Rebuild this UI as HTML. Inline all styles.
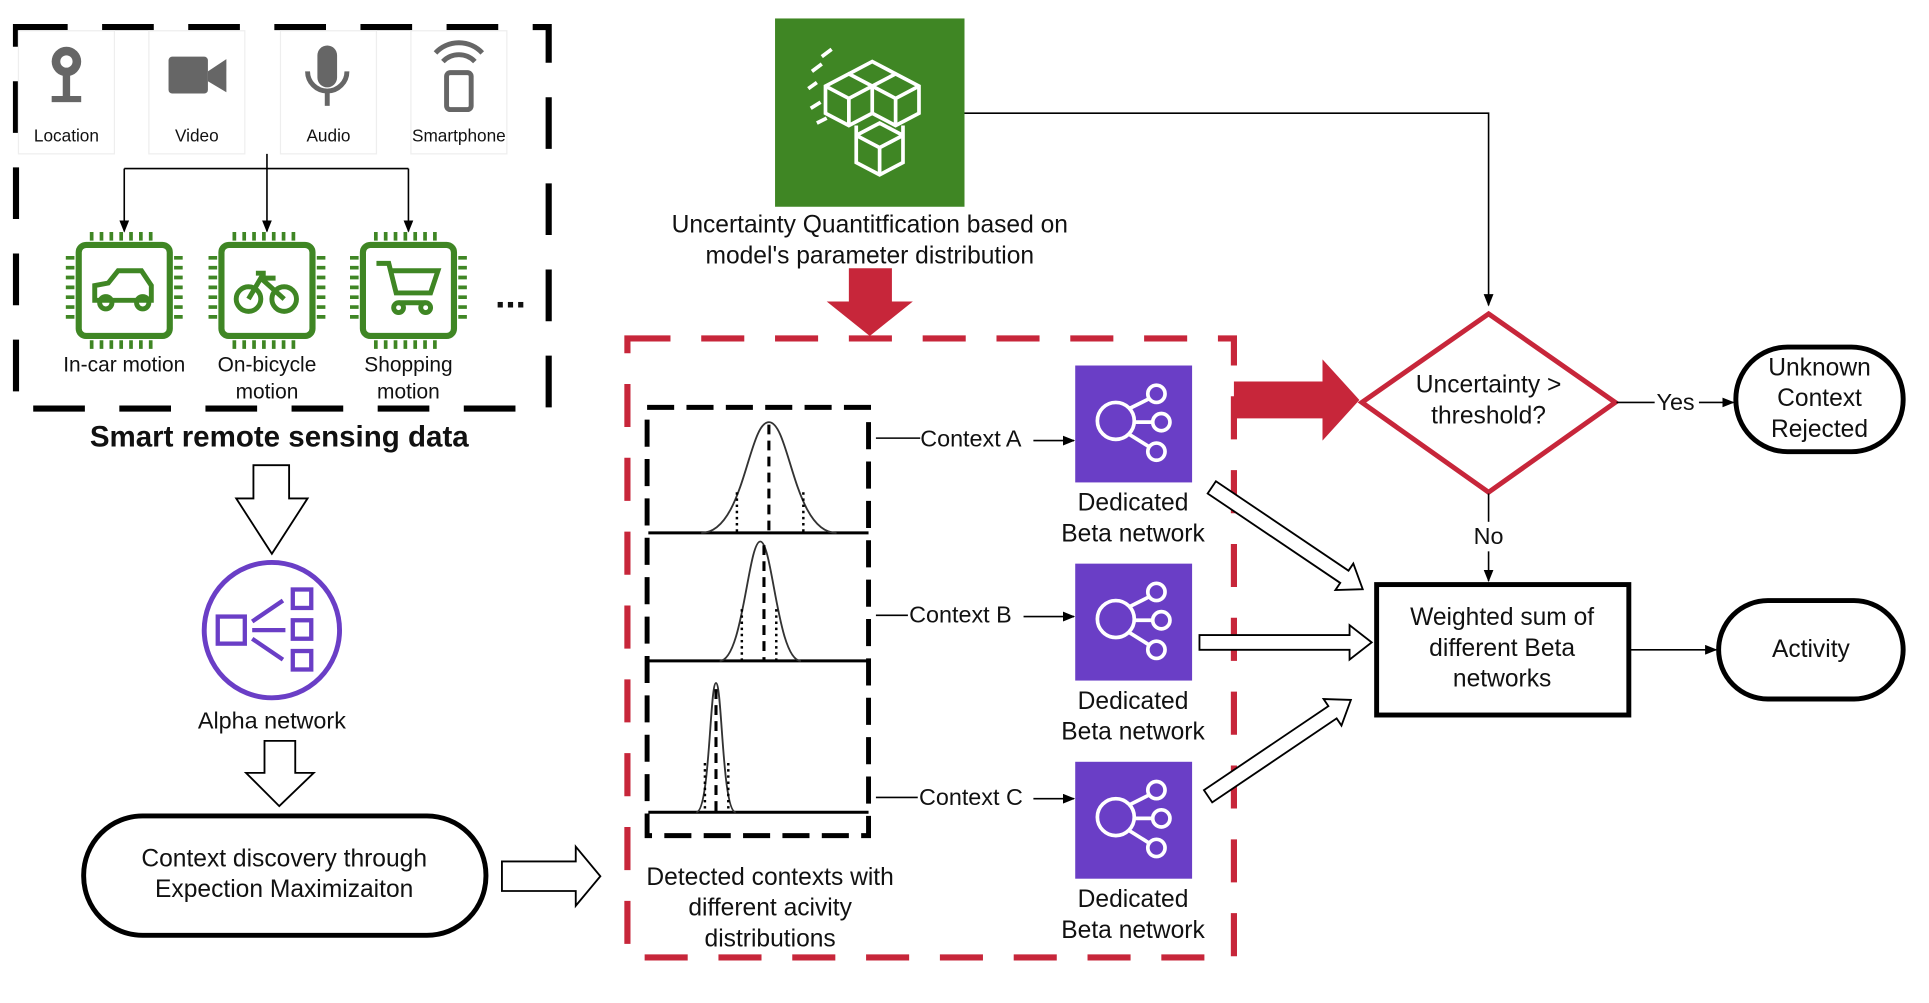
<!DOCTYPE html>
<html><head><meta charset="utf-8"><style>
html,body{margin:0;padding:0;background:#fff;}
svg{display:block;}
text{font-family:"Liberation Sans",sans-serif;fill:#111;}
</style></head><body>
<svg width="1929" height="1003" viewBox="0 0 1568 815" preserveAspectRatio="none" xmlns="http://www.w3.org/2000/svg">
<defs>
<marker id="ah" markerWidth="10" markerHeight="8" refX="9" refY="4" orient="auto" markerUnits="userSpaceOnUse"><path d="M0,0 L10,4 L0,8 z" fill="#000"/></marker>
<g id="chip">
 <rect x="-37" y="-37" width="74" height="74" rx="6" fill="none" stroke="#3f8624" stroke-width="5"/>
 <g stroke="#3f8624">
  <line x1="-28" y1="-44" x2="28" y2="-44" stroke-dasharray="3,5" stroke-width="7"/>
  <line x1="-28" y1="44" x2="28" y2="44" stroke-dasharray="3,5" stroke-width="7"/>
  <line x1="-44" y1="-28" x2="-44" y2="28" stroke-dasharray="3,5" stroke-width="7"/>
  <line x1="44" y1="-28" x2="44" y2="28" stroke-dasharray="3,5" stroke-width="7"/>
 </g>
</g>
<g id="beta">
 <rect x="0" y="0" width="95" height="95" fill="#6a3ec6"/>
 <g fill="none" stroke="#fff" stroke-width="3">
  <circle cx="33" cy="45" r="15"/>
  <circle cx="66" cy="23" r="7"/><circle cx="70" cy="46" r="7"/><circle cx="66" cy="70" r="7"/>
  <line x1="44" y1="35" x2="60" y2="27"/><line x1="48" y1="46" x2="63" y2="46"/><line x1="44" y1="56" x2="60" y2="66"/>
 </g>
</g>
</defs>

<rect x="13" y="22" width="433" height="310" fill="none" stroke="#000" stroke-width="5" stroke-dasharray="42,28"/>
<g fill="#fff" stroke="#eee" stroke-width="1">
<rect x="15" y="25" width="78" height="100"/><rect x="121" y="25" width="78" height="100"/>
<rect x="228" y="25" width="78" height="100"/><rect x="334" y="25" width="78" height="100"/>
</g>
<g fill="#666">
 <circle cx="54" cy="50" r="12"/><circle cx="54" cy="50" r="5" fill="#fff"/>
 <rect x="51" y="60" width="6" height="20"/><rect x="42" y="78" width="24" height="5"/>
 <rect x="137" y="46" width="32" height="30" rx="3"/><path d="M169,58 L184,48 L184,75 L169,66z"/>
 <rect x="258" y="37" width="16" height="34" rx="8"/>
 <path d="M250,58 a16,16 0 0 0 32,0" fill="none" stroke="#666" stroke-width="4"/><rect x="264" y="74" width="4" height="12"/>
 <rect x="363" y="59" width="20" height="30" rx="3" fill="none" stroke="#666" stroke-width="4"/>
 <path d="M360,50 a18,18 0 0 1 26,0 M354,43 a26,26 0 0 1 38,0" fill="none" stroke="#666" stroke-width="4"/>
</g>
<g font-size="14" text-anchor="middle">
<text x="54" y="115">Location</text><text x="160" y="115">Video</text><text x="267" y="115">Audio</text><text x="373" y="115">Smartphone</text>
</g>
<g stroke="#000" stroke-width="1.3" fill="none">
<path d="M217,125 V137 M101,137 H332"/>
<line x1="101" y1="137" x2="101" y2="188" marker-end="url(#ah)"/>
<line x1="217" y1="137" x2="217" y2="188" marker-end="url(#ah)"/>
<line x1="332" y1="137" x2="332" y2="188" marker-end="url(#ah)"/>
</g>
<use href="#chip" x="101" y="236"/><use href="#chip" x="217" y="236"/><use href="#chip" x="332" y="236"/>
<g fill="none" stroke="#3f8624" stroke-width="4">
 <path d="M77,244 V232 L88,230 L96,220 H115 L123,232 V244 Z"/><circle cx="86" cy="246" r="5"/><circle cx="116" cy="246" r="5"/>
 <circle cx="202" cy="243" r="10"/><circle cx="231" cy="243" r="10"/><path d="M202,243 L212,226 L231,243 M212,226 H224 M208,222 H216"/>
 <path d="M306,214 H316 L322,238 H350 L356,220 H318 M324,246 H346"/><circle cx="324" cy="250" r="4"/><circle cx="346" cy="250" r="4"/>
</g>
<g font-size="17" text-anchor="middle">
<text x="101" y="302">In-car motion</text>
<text x="217" y="302">On-bicycle</text><text x="217" y="324">motion</text>
<text x="332" y="302">Shopping</text><text x="332" y="324">motion</text>
</g>
<text x="415" y="250" font-size="30" font-weight="bold" text-anchor="middle">...</text>
<text x="227" y="363" font-size="24" font-weight="bold" text-anchor="middle">Smart remote sensing data</text>

<g fill="#fff" stroke="#000" stroke-width="1.5">
<path d="M206,378 H235 V405 H250 L221,450 L192,405 H206 Z"/>
<path d="M215,602 H240 V628 H255 L227,655 L200,628 H215 Z"/>
<path d="M408,700 H468 V688 L488,712 L468,736 V724 H408 Z"/>
</g>
<circle cx="221" cy="512" r="55" fill="none" stroke="#6a3ec6" stroke-width="4"/>
<g fill="none" stroke="#6a3ec6" stroke-width="3.5">
<rect x="177" y="501" width="22" height="22"/>
<rect x="238" y="479" width="15" height="15"/><rect x="238" y="504" width="15" height="15"/><rect x="238" y="529" width="15" height="15"/>
<path d="M205,505 L230,488 M205,512 H232 M205,519 L230,536"/>
</g>
<text x="221" y="592" font-size="19" text-anchor="middle">Alpha network</text>
<rect x="68" y="663" width="327" height="97" rx="48" fill="none" stroke="#000" stroke-width="4"/>
<g font-size="20" text-anchor="middle"><text x="231" y="704">Context discovery through</text><text x="231" y="729">Expection Maximizaiton</text></g>

<rect x="630" y="15" width="154" height="153" fill="#3f8624"/>
<g fill="none" stroke="#fff" stroke-width="3">
<path d="M671,70 L690,60 L709,70 L709,92 L690,102 L671,92 Z M671,70 L690,80 L709,70 M690,80 V102"/>
<path d="M709,70 L728,60 L747,70 L747,92 L728,102 L709,92 M709,70 L728,80 L747,70 M728,80 V102"/>
<path d="M690,60 L709,50 L728,60"/>
<path d="M696,110 L715,100 L734,110 L734,132 L715,142 L696,132 Z M696,110 L715,120 L734,110 M715,120 V142 M696,110 V102 M734,110 V102"/>
<path d="M660,58 L668,52 M657,72 L664,67 M659,88 L667,83 M664,100 L672,96 M668,46 L676,40" />
</g>
<g font-size="20" text-anchor="middle"><text x="707" y="189">Uncertainty Quantitfication based on</text><text x="707" y="214">model's parameter distribution</text></g>
<path d="M690,218 H725 V245 H742 L707,273 L672,245 H690 Z" fill="#c7263a"/>

<rect x="510" y="275" width="493" height="503" fill="none" stroke="#c7263a" stroke-width="5" stroke-dasharray="35,25"/>
<rect x="515" y="315" width="197" height="373" fill="#fff"/>
<rect x="526" y="331" width="180" height="348" fill="none" stroke="#000" stroke-width="4" stroke-dasharray="22,10"/>
<g stroke="#000" stroke-width="2.5"><line x1="527" y1="433" x2="706" y2="433"/><line x1="527" y1="537" x2="706" y2="537"/><line x1="527" y1="660" x2="706" y2="660"/></g>
<path d="M570,433 C605,433 608,343 625,343 C642,343 645,433 680,433" fill="none" stroke="#333" stroke-width="1.5"/>
<path d="M585,537 C604,537 608,440 618,440 C628,440 632,537 651,537" fill="none" stroke="#333" stroke-width="1.5"/>
<path d="M566,660 C577,660 577,555 582,555 C587,555 587,660 598,660" fill="none" stroke="#333" stroke-width="1.5"/>
<g stroke="#000" stroke-width="2.5" stroke-dasharray="8,5"><line x1="625" y1="345" x2="625" y2="433"/><line x1="621" y1="443" x2="621" y2="537"/><line x1="582" y1="560" x2="582" y2="660"/></g>
<g stroke="#000" stroke-width="2" stroke-dasharray="2,3"><line x1="599" y1="400" x2="599" y2="433"/><line x1="653" y1="400" x2="653" y2="433"/><line x1="603" y1="495" x2="603" y2="537"/><line x1="631" y1="495" x2="631" y2="537"/><line x1="573" y1="620" x2="573" y2="660"/><line x1="592" y1="620" x2="592" y2="660"/></g>
<g font-size="20" text-anchor="middle"><text x="626" y="719">Detected contexts with</text><text x="626" y="744">different acivity</text><text x="626" y="769">distributions</text></g>

<g stroke="#000" stroke-width="1.3">
<line x1="712" y1="356" x2="748" y2="356"/><line x1="840" y1="358" x2="873" y2="358" marker-end="url(#ah)"/>
<line x1="712" y1="500" x2="738" y2="500"/><line x1="832" y1="501" x2="873" y2="501" marker-end="url(#ah)"/>
<line x1="712" y1="648" x2="746" y2="648"/><line x1="840" y1="649" x2="873" y2="649" marker-end="url(#ah)"/>
</g>
<g font-size="19"><text x="748" y="363">Context A</text><text x="739" y="506">Context B</text><text x="747" y="654">Context C</text></g>
<use href="#beta" x="874" y="297"/><use href="#beta" x="874" y="458"/><use href="#beta" x="874" y="619"/>
<g font-size="20" text-anchor="middle">
<text x="921" y="415">Dedicated</text><text x="921" y="440">Beta network</text>
<text x="921" y="576">Dedicated</text><text x="921" y="601">Beta network</text>
<text x="921" y="737">Dedicated</text><text x="921" y="762">Beta network</text>
</g>

<path d="M1003,310 H1075 V292 L1105,325 L1075,358 V340 H1003 Z" fill="#c7263a"/>
<path d="M784,92 H1210 V248" fill="none" stroke="#000" stroke-width="1.3" marker-end="url(#ah)"/>
<polygon points="1210,255 1313,327 1210,400 1107,327" fill="#fff" stroke="#c7263a" stroke-width="4"/>
<g font-size="20" text-anchor="middle"><text x="1210" y="319">Uncertainty &gt;</text><text x="1210" y="344">threshold?</text></g>
<g stroke="#000" stroke-width="1.3">
<line x1="1314" y1="327" x2="1345" y2="327"/><line x1="1381" y1="327" x2="1409" y2="327" marker-end="url(#ah)"/>
<line x1="1210" y1="401" x2="1210" y2="424"/><line x1="1210" y1="448" x2="1210" y2="472" marker-end="url(#ah)"/>
<line x1="1324" y1="528" x2="1395" y2="528" marker-end="url(#ah)"/>
</g>
<text x="1362" y="333" font-size="19" text-anchor="middle">Yes</text>
<text x="1210" y="442" font-size="19" text-anchor="middle">No</text>
<rect x="1411" y="282" width="136" height="85" rx="42" fill="none" stroke="#000" stroke-width="4"/>
<g font-size="20" text-anchor="middle"><text x="1479" y="305">Unknown</text><text x="1479" y="330">Context</text><text x="1479" y="355">Rejected</text></g>
<rect x="1119" y="475" width="205" height="106" fill="none" stroke="#000" stroke-width="4"/>
<g font-size="20" text-anchor="middle"><text x="1221" y="508">Weighted sum of</text><text x="1221" y="533">different Beta</text><text x="1221" y="558">networks</text></g>
<rect x="1397" y="488" width="150" height="80" rx="40" fill="none" stroke="#000" stroke-width="4"/>
<text x="1472" y="534" font-size="20" text-anchor="middle">Activity</text>

<g fill="#fff" stroke="#000" stroke-width="1.5">
<path d="M0,-6 H130 V-13 L148,0 L130,13 V6 H0 Z" transform="translate(985,396) rotate(34)"/>
<path d="M975,516 H1097 V508 L1115,522 L1097,536 V528 H975 Z"/>
<path d="M0,-6 H122 V-13 L140,0 L122,13 V6 H0 Z" transform="translate(982,647) rotate(-34)"/>
</g>
</svg>
</body></html>
